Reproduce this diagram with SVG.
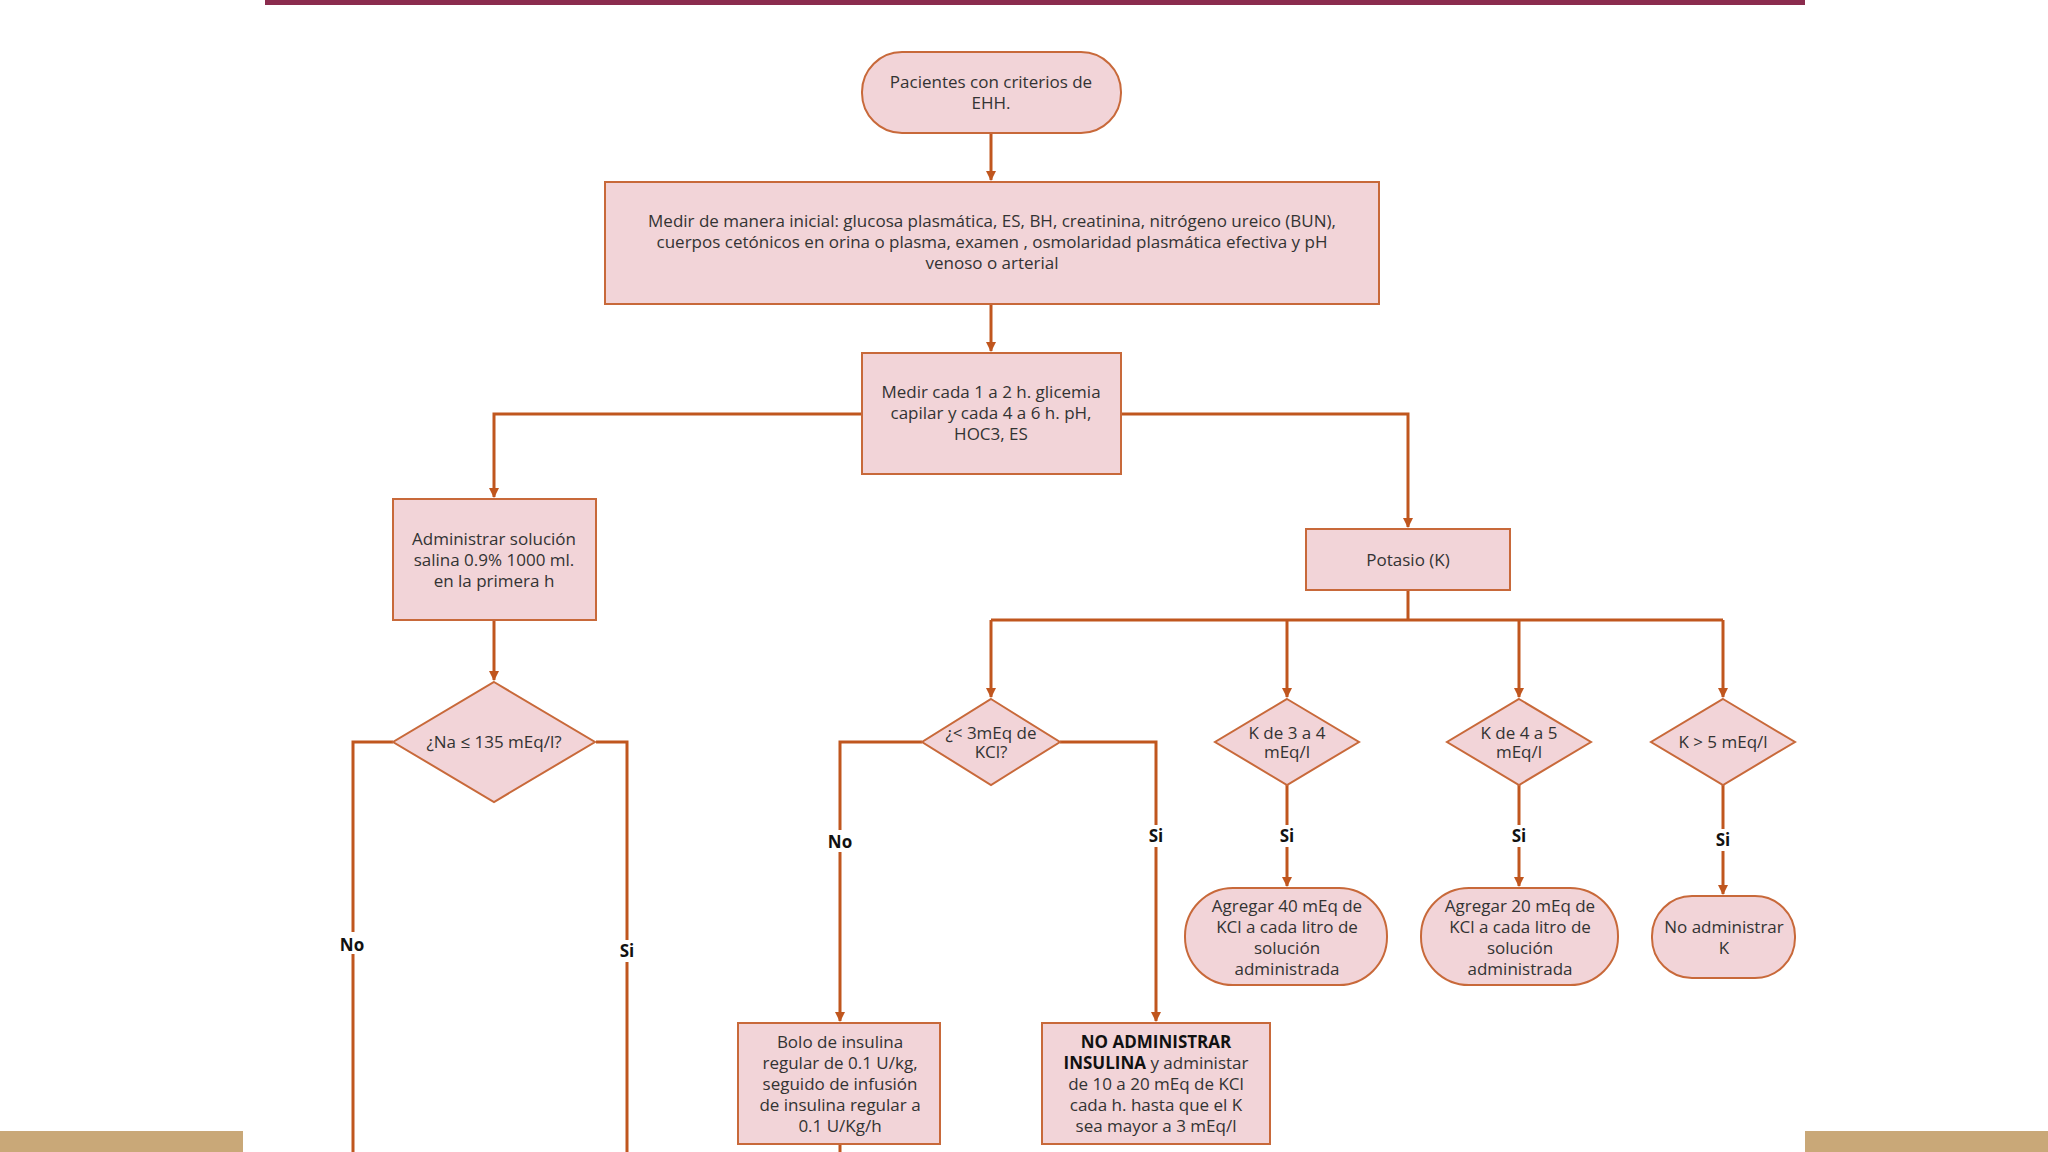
<svg xmlns="http://www.w3.org/2000/svg" width="2048" height="1152" viewBox="0 0 2048 1152">
<defs>
<marker id="ar" markerWidth="10" markerHeight="10" refX="9" refY="5" orient="auto" markerUnits="userSpaceOnUse" viewBox="0 0 10 10"><path d="M0,0 L10,5 L0,10 z" fill="#c0561e"/></marker>
<style>
.n{fill:#f2d4d8;stroke:#c8693a;stroke-width:2}
.c{fill:none;stroke:#c0561e;stroke-width:3}
.a{marker-end:url(#ar)}
text{font-family:"Open Sans","Liberation Sans",sans-serif;font-size:17px;fill:#333;text-anchor:middle}
.l{font-weight:bold;fill:#111}
</style>
</defs>
<rect width="2048" height="1152" fill="#fff"/>
<rect x="265" y="0" width="1540" height="5" fill="#8b2c4e"/>
<rect x="0" y="1131" width="243" height="21" fill="#c9a878"/>
<rect x="1805" y="1131" width="243" height="21" fill="#c9a878"/>
<g id="connectors">
<path class="c a" d="M991,133 V180"/>
<path class="c a" d="M991,304 V351"/>
<path class="c a" d="M862,414 H494 V497"/>
<path class="c a" d="M1121,414 H1408 V527"/>
<path class="c a" d="M494,620 V680"/>
<path class="c" d="M393,742 H353 V1152"/>
<path class="c" d="M596,742 H627 V1152"/>
<path class="c" d="M1408,590 V620 M991,620 H1723"/>
<path class="c a" d="M991,620 V697"/>
<path class="c a" d="M1287,620 V697"/>
<path class="c a" d="M1519,620 V697"/>
<path class="c a" d="M1723,620 V697"/>
<path class="c a" d="M922,742 H840 V1021"/>
<path class="c a" d="M1060,742 H1156 V1021"/>
<path class="c a" d="M1287,785 V886"/>
<path class="c a" d="M1519,785 V886"/>
<path class="c a" d="M1723,785 V894"/>
<path class="c" d="M840,1144 V1152"/>
<rect x="340" y="932" width="24" height="22" fill="#fff"/><text class="l" x="352" y="951">No</text>
<rect x="617" y="940" width="20" height="22" fill="#fff"/><text class="l" x="627" y="957">Si</text>
<rect x="826" y="830" width="28" height="22" fill="#fff"/><text class="l" x="840" y="848">No</text>
<rect x="1146" y="825" width="20" height="22" fill="#fff"/><text class="l" x="1156" y="842">Si</text>
<rect x="1277" y="825" width="20" height="22" fill="#fff"/><text class="l" x="1287" y="842">Si</text>
<rect x="1509" y="825" width="20" height="22" fill="#fff"/><text class="l" x="1519" y="842">Si</text>
<rect x="1713" y="829" width="20" height="22" fill="#fff"/><text class="l" x="1723" y="846">Si</text>
</g>
<g id="n1"><rect class="n" x="862" y="52" width="259" height="81" rx="40"/><text x="991" y="88">Pacientes con criterios de</text><text x="991" y="109">EHH.</text></g>
<g id="n2"><rect class="n" x="605" y="182" width="774" height="122"/><text x="992" y="227">Medir de manera inicial: glucosa plasmática, ES, BH, creatinina, nitrógeno ureico (BUN),</text><text x="992" y="248">cuerpos cetónicos en orina o plasma, examen , osmolaridad plasmática efectiva y pH</text><text x="992" y="269">venoso o arterial</text></g>
<g id="n3"><rect class="n" x="862" y="353" width="259" height="121"/><text x="991" y="398">Medir cada 1 a 2 h. glicemia</text><text x="991" y="419">capilar y cada 4 a 6  h.  pH,</text><text x="991" y="440">HOC3, ES</text></g>
<g id="n4"><rect class="n" x="393" y="499" width="203" height="121"/><text x="494" y="545">Administrar solución</text><text x="494" y="566">salina 0.9% 1000 ml.</text><text x="494" y="587">en la primera h</text></g>
<g id="n5"><rect class="n" x="1306" y="529" width="204" height="61"/><text x="1408" y="566">Potasio (K)</text></g>
<g id="n6"><path class="n" d="M494,682 L595,742 L494,802 L393,742 z"/><text x="494" y="748">¿Na ≤  135 mEq/l?</text></g>
<g id="n7"><path class="n" d="M991,699 L1060,742 L991,785 L922,742 z"/><text x="991" y="739">¿&lt; 3mEq de</text><text x="991" y="758">KCl?</text></g>
<g id="n8"><path class="n" d="M1287,699 L1359,742 L1287,785 L1215,742 z"/><text x="1287" y="739">K de 3 a 4</text><text x="1287" y="758">mEq/l</text></g>
<g id="n9"><path class="n" d="M1519,699 L1591,742 L1519,785 L1447,742 z"/><text x="1519" y="739">K de 4 a 5</text><text x="1519" y="758">mEq/l</text></g>
<g id="n10"><path class="n" d="M1723,699 L1795,742 L1723,785 L1651,742 z"/><text x="1723" y="748">K &gt; 5 mEq/l</text></g>
<g id="n11"><rect class="n" x="1185" y="888" width="202" height="97" rx="48"/><text x="1287" y="912">Agregar  40 mEq de</text><text x="1287" y="933">KCl a cada litro de</text><text x="1287" y="954">solución</text><text x="1287" y="975">administrada</text></g>
<g id="n12"><rect class="n" x="1421" y="888" width="197" height="97" rx="48"/><text x="1520" y="912">Agregar  20 mEq de</text><text x="1520" y="933">KCl a cada litro de</text><text x="1520" y="954">solución</text><text x="1520" y="975">administrada</text></g>
<g id="n13"><rect class="n" x="1652" y="896" width="143" height="82" rx="40"/><text x="1724" y="933">No administrar</text><text x="1724" y="954">K</text></g>
<g id="n14"><rect class="n" x="738" y="1023" width="202" height="121"/><text x="840" y="1048">Bolo de insulina</text><text x="840" y="1069">regular de 0.1 U/kg,</text><text x="840" y="1090">seguido de infusión</text><text x="840" y="1111">de insulina regular a</text><text x="840" y="1132">0.1 U/Kg/h</text></g>
<g id="n15"><rect class="n" x="1042" y="1023" width="228" height="121"/><text x="1156" y="1048" class="l">NO ADMINISTRAR</text><text x="1156" y="1069"><tspan class="l">INSULINA</tspan> y administar</text><text x="1156" y="1090">de 10 a 20 mEq de KCl</text><text x="1156" y="1111">cada h. hasta que el K</text><text x="1156" y="1132">sea mayor a 3 mEq/l</text></g>
</svg>
